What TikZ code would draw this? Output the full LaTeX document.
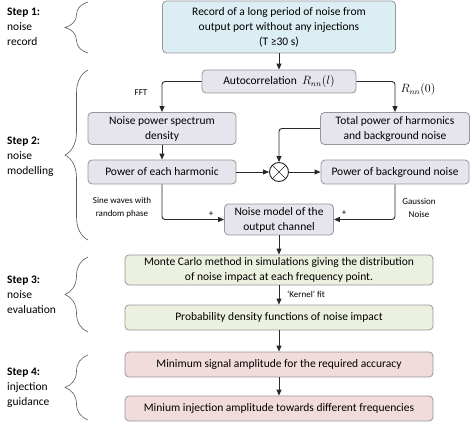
\documentclass[tikz,border=0pt]{standalone}
\usepackage{fontspec}
\setmainfont{Carlito}
\usetikzlibrary{arrows.meta,decorations.pathreplacing}

\definecolor{boxline}{RGB}{150,150,155}
\definecolor{recblue}{RGB}{218,238,243}
\definecolor{modgray}{RGB}{230,228,236}
\definecolor{evgreen}{RGB}{235,241,222}
\definecolor{injred}{RGB}{242,220,219}
\definecolor{wire}{RGB}{40,40,40}

\begin{document}
\begin{tikzpicture}
  [x=1pt,y=-1pt,
   every node/.style={font=\fontsize{11.5}{15}\selectfont,align=center},
   box/.style={draw=boxline,rounded corners=4pt,line width=.8pt,inner sep=1pt},
   lbl/.style={font=\fontsize{9}{13}\selectfont,inner sep=1pt},
   steplbl/.style={anchor=west,align=left,inner sep=0pt},
   arr/.style={draw=wire,line width=.9pt,rounded corners=3pt,-{Triangle[length=6pt,width=5pt]}},
   brc/.style={draw=black!65,line width=.6pt,decorate,decoration={brace,amplitude=23pt,aspect=.5}}]
  \useasboundingbox (0,0) rectangle (474,422);

  % step 1
  \node[box,fill=recblue,minimum width=233pt,minimum height=52pt] (rec) at (279,27)
    {Record of a long period of noise from\\output port without any injections\\(T ≥30 s)};

  % step 2
  \node[box,fill=modgray,minimum width=154pt,minimum height=23pt] (auto) at (279,81.5)
    {Autocorrelation\ \ $R_{nn}(l)$};
  \node[box,fill=modgray,minimum width=148pt,minimum height=32pt] (psd) at (162,128.5)
    {Noise power spectrum\\density};
  \node[box,fill=modgray,minimum width=149pt,minimum height=32pt] (tot) at (395,128.5)
    {Total power of harmonics\\and background noise};
  \node[box,fill=modgray,minimum width=148pt,minimum height=24pt] (harm) at (162,172)
    {Power of each harmonic};
  \node[box,fill=modgray,minimum width=148pt,minimum height=24pt] (bg) at (395,172)
    {Power of background noise};
  \node[circle,draw=wire,fill=white,line width=.9pt,minimum size=19pt,inner sep=0pt] (mult) at (279,172) {};
  \draw[wire,line width=.7pt] (mult.north east) -- (mult.south west);
  \draw[wire,line width=.7pt] (mult.north west) -- (mult.south east);
  \node[box,fill=modgray,minimum width=109pt,minimum height=31pt] (model) at (279,219.5)
    {Noise model of the\\output channel};

  % step 3
  \node[box,fill=evgreen,minimum width=308pt,minimum height=30pt] (mc) at (279,270)
    {Monte Carlo method in simulations giving the distribution\\of noise impact at each frequency point.};
  \node[box,fill=evgreen,minimum width=308pt,minimum height=25pt] (pdf) at (279,317.5)
    {Probability density functions of noise impact};

  % step 4
  \node[box,fill=injred,minimum width=308pt,minimum height=25pt] (minsig) at (279,364.5)
    {Minimum signal amplitude for the required accuracy};
  \node[box,fill=injred,minimum width=308pt,minimum height=25pt] (mininj) at (279,408.5)
    {Minium injection amplitude towards different frequencies};

  % labels
  \node[lbl] (fft) at (141,93) {FFT};
  \node[lbl,font=\fontsize{11.5}{15}\selectfont] (rzero) at (418,90) {$R_{nn}(0)$};
  \node[lbl] (sine) at (122,208) {Sine waves with\\random phase};
  \node[lbl] (gauss) at (419,208) {Gaussion\\Noise};
  \node[lbl] (plusl) at (211,214) {+};
  \node[lbl] (plusr) at (344,213) {+};
  \node[lbl,anchor=west] (kern) at (286,294) {‘Kernel’ fit};

  \node[steplbl] (s1) at (7,27) {\textbf{Step 1:}\\noise\\record};
  \node[steplbl] (s2) at (7,156.5) {\textbf{Step 2:}\\noise\\modelling};
  \node[steplbl] (s3) at (7,295) {\textbf{Step 3:}\\noise\\evaluation};
  \node[steplbl] (s4) at (7,388) {\textbf{Step 4:}\\injection\\guidance};

  \draw[brc] (88,53) -- (88,2);
  \draw[brc] (88,240) -- (88,70);
  \draw[brc] (88,332) -- (88,257);
  \draw[brc] (88,420) -- (88,355);

  % connectors
  \draw[arr] (rec) -- (auto);
  \draw[arr] (auto.west) -| (psd.north);
  \draw[arr] (auto.east) -| (tot.north);
  \draw[arr] (psd) -- (harm);
  \draw[arr] (tot.west) -| (mult.north);
  \draw[arr] (harm) -- (mult);
  \draw[arr] (mult) -- (bg);
  \draw[arr] (harm.south) |- (model.west);
  \draw[arr] (bg.south) |- (model.east);
  \draw[arr] (model) -- (mc);
  \draw[arr] (mc) -- (pdf);
  \draw[arr] (pdf) -- (minsig);
  \draw[arr] (minsig) -- (mininj);
\end{tikzpicture}
\end{document}
